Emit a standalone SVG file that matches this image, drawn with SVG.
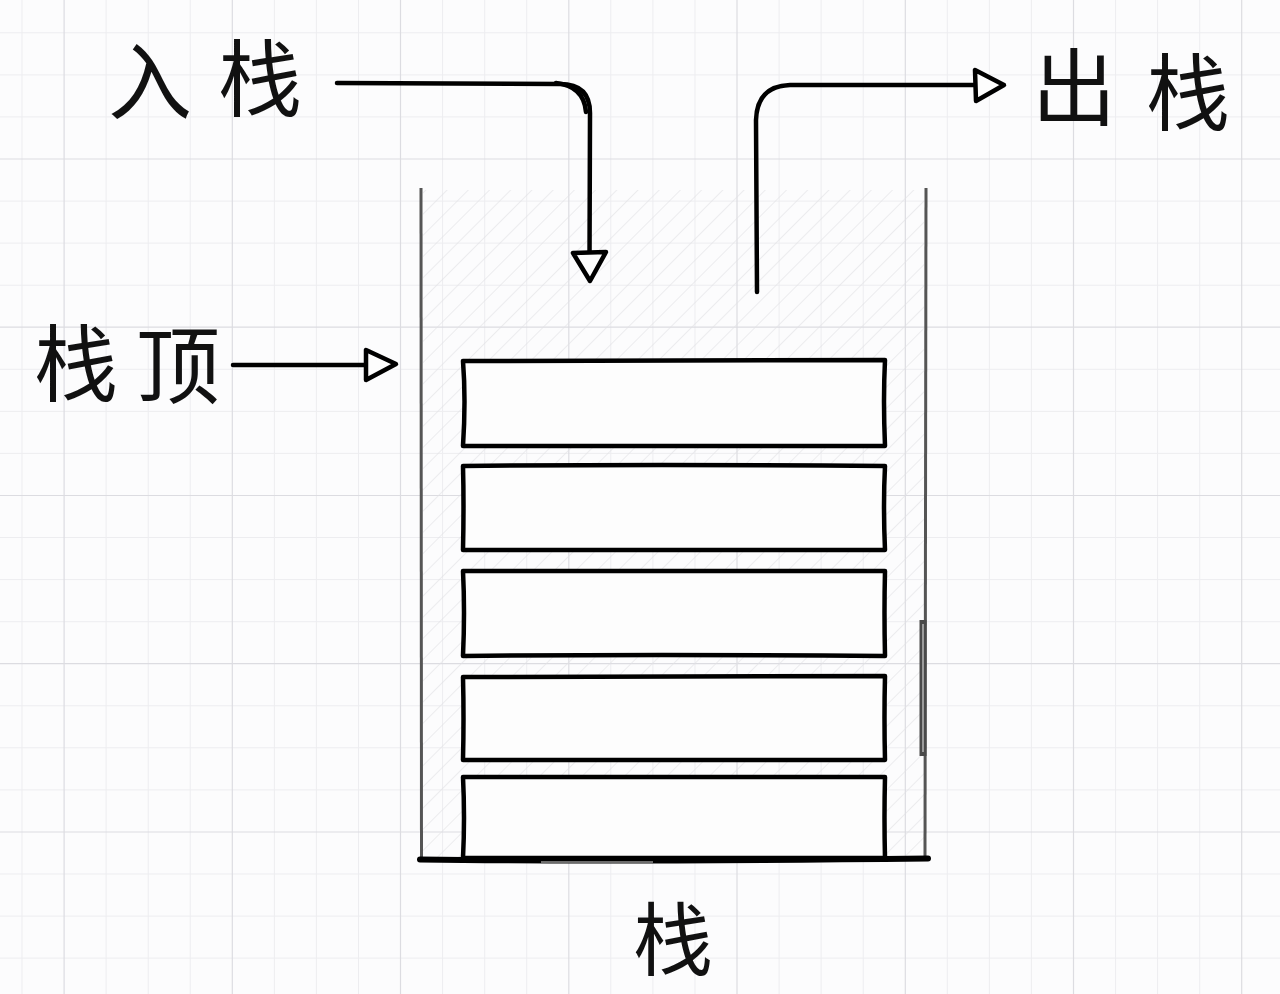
<svg xmlns="http://www.w3.org/2000/svg" width="1280" height="994" viewBox="0 0 1280 994">
  <defs>
    <pattern id="hatch" patternUnits="userSpaceOnUse" width="15" height="15" patternTransform="rotate(45)">
      <line x1="0" y1="0" x2="0" y2="15" stroke="#e1e1e4" stroke-width="1.2"/>
    </pattern>
    <style>
      .minor { stroke: #ededf0; stroke-width: 1; fill: none; }
      .major { stroke: #dcdce1; stroke-width: 1.2; fill: none; }
      .box { fill: #fdfdfd; stroke: #000; stroke-width: 4.5; stroke-linejoin: round; }
      .wall { stroke: #555; stroke-width: 3; fill: none; }
      .conn { stroke: #000; stroke-width: 4.5; fill: none; stroke-linecap: round; stroke-linejoin: round; }
      .head { fill: #fdfdfd; stroke: #000; stroke-width: 4.5; stroke-linejoin: round; }
      .hand { font-family: "Noto Sans CJK SC", "Noto Sans CJK JP", sans-serif; font-size: 84px; fill: #111; text-anchor: middle; dominant-baseline: central; font-weight: 400; }
    </style>
  </defs>

  <rect x="0" y="0" width="1280" height="994" fill="#fcfcfd"/>

  <g id="grid">
    <path class="minor" d="M22,0V994 M106.1,0V994 M148.2,0V994 M190.2,0V994 M274.4,0V994 M316.4,0V994 M358.5,0V994 M442.6,0V994 M484.7,0V994 M526.7,0V994 M610.8,0V994 M652.9,0V994 M695,0V994 M779.1,0V994 M821.1,0V994 M863.2,0V994 M947.3,0V994 M989.4,0V994 M1031.4,0V994 M1115.6,0V994 M1157.6,0V994 M1199.7,0V994
      M0,32.8H1280 M0,74.9H1280 M0,116.9H1280 M0,201.1H1280 M0,243.1H1280 M0,285.2H1280 M0,369.3H1280 M0,411.4H1280 M0,453.4H1280 M0,537.5H1280 M0,579.6H1280 M0,621.7H1280 M0,705.8H1280 M0,747.8H1280 M0,789.9H1280 M0,874H1280 M0,916.1H1280 M0,958.1H1280"/>
    <path class="major" d="M64.1,0V994 M232.3,0V994 M400.5,0V994 M568.8,0V994 M737,0V994 M905.3,0V994 M1073.5,0V994 M1241.7,0V994
      M0,159H1280 M0,327.2H1280 M0,495.5H1280 M0,663.7H1280 M0,832H1280"/>
  </g>

  <g id="stack-container">
    <rect x="423" y="190" width="501" height="668" fill="url(#hatch)"/>
    <path class="wall" d="M421,188 L421.5,860"/>
    <path class="wall" d="M926,188 L925,860"/>
    <path d="M923,620 L923,756" stroke="#4a4a4a" stroke-width="7" fill="none"/>
    <path d="M923,624 L923,752" stroke="#eeeeee" stroke-width="1" fill="none"/>
    <path d="M420,859.5 Q600,862 928,858.5" stroke="#000" stroke-width="6" fill="none" stroke-linecap="round"/>
    <path d="M541,862 L653,862" stroke="#d8d8d8" stroke-width="1" fill="none"/>
  </g>

  <g id="box1"><path class="box" d="M463,361 L885,360 Q883,400 885,446 L463,446 Q466,400 463,361 Z"/></g>
  <g id="box2"><path class="box" d="M463,466 Q650,464 885,466 Q883,505 885,550 L463,550 Q464,505 463,466 Z"/></g>
  <g id="box3"><path class="box" d="M463,571 L885,571 Q884,612 885,656 Q650,654 463,656 Q465,612 463,571 Z"/></g>
  <g id="box4"><path class="box" d="M463,677 L885,676 Q884,718 885,760 L463,760 Q464,718 463,677 Z"/></g>
  <g id="box5"><path class="box" d="M463,777 L885,777 Q884,818 885,858 L463,858 Q465,818 463,777 Z"/></g>

  <g id="connectors">
    <path class="conn" d="M337,83 L560,84 Q590,84 590,113 L589.5,262"/>
    <path class="conn" d="M556,83 Q584,86 586,112" stroke-width="3"/>
    <polygon class="head" points="573,253 606,252 590,281"/>
    <path class="conn" d="M757,292 L756,120 Q757,86 790,85 L975,85"/>
    <polygon class="head" points="975,70 976,101 1004,85"/>
    <path class="conn" d="M233,365 L370,365"/>
    <polygon class="head" points="366,350 366,380 396,364"/>
  </g>

  <g id="label-push"><text class="hand" x="150" y="76">入</text><text class="hand" x="260" y="73">栈</text></g>
  <g id="label-pop"><text class="hand" x="1074" y="82">出</text><text class="hand" x="1188" y="87">栈</text></g>
  <g id="label-top"><text class="hand" x="76" y="358">栈</text><text class="hand" x="178" y="360">顶</text></g>
  <g id="label-stack"><text class="hand" x="673" y="934" style="font-size:80px">栈</text></g>
</svg>
